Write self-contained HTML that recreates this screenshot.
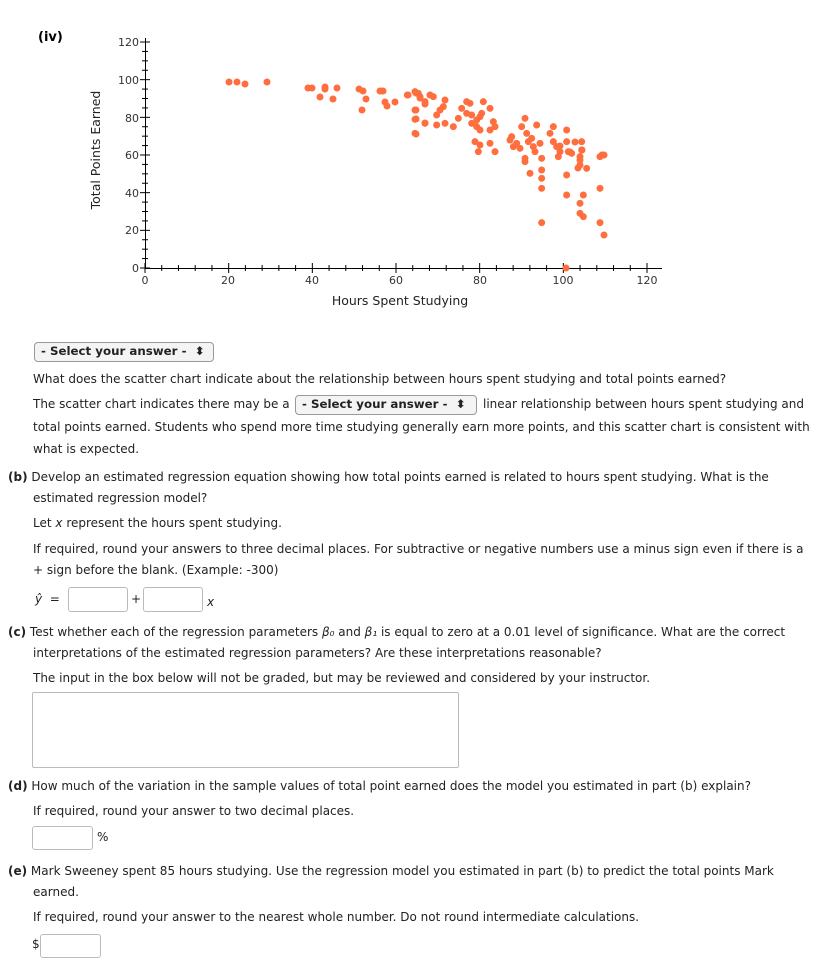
<!DOCTYPE html><html><head><style>
body{margin:0;width:820px;height:965px;background:#fff;position:relative;font-family:"DejaVu Sans",Verdana,sans-serif;font-size:12px;color:#222;overflow:hidden}
.t{position:absolute;white-space:nowrap;line-height:16px}
.b{font-weight:bold}
.box{position:absolute;border:1px solid #bbb;border-radius:3px;background:#fff}
.sel{position:absolute;border:1px solid #999;border-radius:4px;background:#f4f4f4;font-weight:bold;font-size:11.8px;line-height:17px;padding-left:6px;box-sizing:border-box}
</style></head><body>
<svg style="position:absolute;left:0;top:0" width="820" height="320" font-family="DejaVu Sans,sans-serif">
<text x="38" y="41" font-weight="bold" font-size="13">(iv)</text>
<g stroke="#000" stroke-width="1">
<line x1="145.5" y1="38" x2="145.5" y2="268"/>
<line x1="145" y1="268.5" x2="662" y2="268.5"/>
</g>
<g id="ticks" stroke="#000"></g>
<g font-size="11" fill="#333" text-anchor="end">
<text x="139" y="272">0</text><text x="139" y="234">20</text><text x="139" y="197">40</text><text x="139" y="159">60</text><text x="139" y="122">80</text><text x="139" y="84">100</text><text x="139" y="46">120</text>
</g>
<g font-size="11" fill="#333" text-anchor="middle">
<text x="145" y="284">0</text><text x="228" y="284">20</text><text x="312" y="284">40</text><text x="396" y="284">60</text><text x="480" y="284">80</text><text x="563" y="284">100</text><text x="647" y="284">120</text>
</g>
<text x="400" y="305" font-size="12.5" text-anchor="middle" fill="#222">Hours Spent Studying</text>
<text transform="translate(100,150) rotate(-90)" font-size="12.5" text-anchor="middle" fill="#222">Total Points Earned</text>
<g id="pts" fill="#ff6e3e"></g>
</svg>
<script>
var tk=document.getElementById('ticks'),s='';
for(var i=0;i<=24;i++){var y=268-i*226/24;var L=i%4==0?5:3;s+='<line x1="145" x2="'+(145+L)+'" y1="'+y+'" y2="'+y+'"/><line x1="'+(145-L)+'" x2="145" y1="'+y+'" y2="'+y+'"/>';}
for(var i=0;i<=30;i++){var x=145+i*502/30;var L=i%5==0?5:3;s+='<line y1="268" y2="'+(268-L)+'" x1="'+x+'" x2="'+x+'"/><line y1="268" y2="'+(268+L)+'" x1="'+x+'" x2="'+x+'"/>';}
tk.innerHTML=s;
var z1=[[229,82],[237,82],[245,84],[267,82],[308,88],[312,88],[320,97],[325,87],[325,89],[333,99],[337,88],[359,89],[363,91],[366,99],[362,110],[380,91],[383,91],[385,102],[387,106],[395,102],[408,95],[416,93],[420,98],[425,104],[416,110],[416,119],[425,123],[416,134]];
var z2=[[22,45],[45,35],[55,40],[60,50],[75,65],[90,45],[100,50],[45,90],[45,118],[75,130],[45,160],[110,105],[120,90],[135,60],[130,80],[110,135],[135,130],[160,140],[175,115],[200,65],[210,70],[185,85],[200,100],[215,105],[230,120],[240,110],[250,65],[245,100],[270,85],[240,150],[270,150],[280,125],[285,140],[225,185],[240,195],[270,190],[285,215],[235,215],[335,170],[340,200],[360,205],[365,140],[375,115],[380,160],[385,185],[395,175],[410,135],[400,200],[405,215],[420,190],[425,235],[375,235],[375,245],[390,280],[425,270],[425,295],[425,325],[425,428],[450,160],[460,140],[460,185],[470,200],[480,215],[475,230],[500,150],[500,185],[505,215],[515,220],[545,185],[540,230],[540,255],[560,265],[545,210],[600,230],[612,225],[500,285],[500,345],[550,345],[540,370],[540,400],[550,410],[600,325],[600,428],[612,465],[330,180],[350,190],[215,130],[230,140]];
var p='';z1.forEach(function(a){p+='<circle cx="'+a[0]+'" cy="'+a[1]+'" r="3.5"/>'});
z2.forEach(function(a){p+='<circle cx="'+(400+a[0]/3)+'" cy="'+(80+a[1]/3)+'" r="3.5"/>'});
[[575,142],[582,150],[580,160],[578,168],[602,155],[566,268],[560,146],[570,152]].forEach(function(a){p+='<circle cx="'+a[0]+'" cy="'+a[1]+'" r="3.5"/>'});
document.getElementById('pts').innerHTML=p;
</script>
<div class="sel" style="left:34px;top:342px;width:180px;height:20px">- Select your answer - &nbsp;⬍</div>
<div class="t" style="left:33px;top:371px">What does the scatter chart indicate about the relationship between hours spent studying and total points earned?</div>
<div class="t" style="left:33px;top:396px">The scatter chart indicates there may be a</div>
<div class="sel" style="left:295px;top:395px;width:182px;height:20px">- Select your answer - &nbsp;⬍</div>
<div class="t" style="left:483px;top:396px">linear relationship between hours spent studying and</div>
<div class="t" style="left:33px;top:419px">total points earned. Students who spend more time studying generally earn more points, and this scatter chart is consistent with</div>
<div class="t" style="left:33px;top:441px">what is expected.</div>
<div class="t" style="left:8px;top:469px"><b>(b)</b> Develop an estimated regression equation showing how total points earned is related to hours spent studying. What is the</div>
<div class="t" style="left:33px;top:490px">estimated regression model?</div>
<div class="t" style="left:33px;top:515px">Let <i>x</i> represent the hours spent studying.</div>
<div class="t" style="left:33px;top:541px">If required, round your answers to three decimal places. For subtractive or negative numbers use a minus sign even if there is a</div>
<div class="t" style="left:33px;top:562px">+ sign before the blank. (Example: -300)</div>
<div class="t" style="left:35px;top:591px"><i>ŷ</i> &nbsp;=</div>
<div class="box" style="left:68px;top:587px;width:58px;height:23px"></div>
<div class="t" style="left:131px;top:591px">+</div>
<div class="box" style="left:143px;top:587px;width:58px;height:23px"></div>
<div class="t" style="left:207px;top:594px"><i>x</i></div>
<div class="t" style="left:8px;top:624px"><b>(c)</b> Test whether each of the regression parameters <i>β₀</i> and <i>β₁</i> is equal to zero at a 0.01 level of significance. What are the correct</div>
<div class="t" style="left:33px;top:645px">interpretations of the estimated regression parameters? Are these interpretations reasonable?</div>
<div class="t" style="left:33px;top:670px">The input in the box below will not be graded, but may be reviewed and considered by your instructor.</div>
<div class="box" style="left:32px;top:692px;width:425px;height:74px;border-radius:2px"></div>
<div class="t" style="left:8px;top:778px"><b>(d)</b> How much of the variation in the sample values of total point earned does the model you estimated in part (b) explain?</div>
<div class="t" style="left:33px;top:803px">If required, round your answer to two decimal places.</div>
<div class="box" style="left:32px;top:826px;width:59px;height:22px"></div>
<div class="t" style="left:97px;top:829px">%</div>
<div class="t" style="left:8px;top:863px"><b>(e)</b> Mark Sweeney spent 85 hours studying. Use the regression model you estimated in part (b) to predict the total points Mark</div>
<div class="t" style="left:33px;top:884px">earned.</div>
<div class="t" style="left:33px;top:909px">If required, round your answer to the nearest whole number. Do not round intermediate calculations.</div>
<div class="t" style="left:32px;top:936px">$</div>
<div class="box" style="left:40px;top:934px;width:59px;height:22px"></div>
</body></html>
